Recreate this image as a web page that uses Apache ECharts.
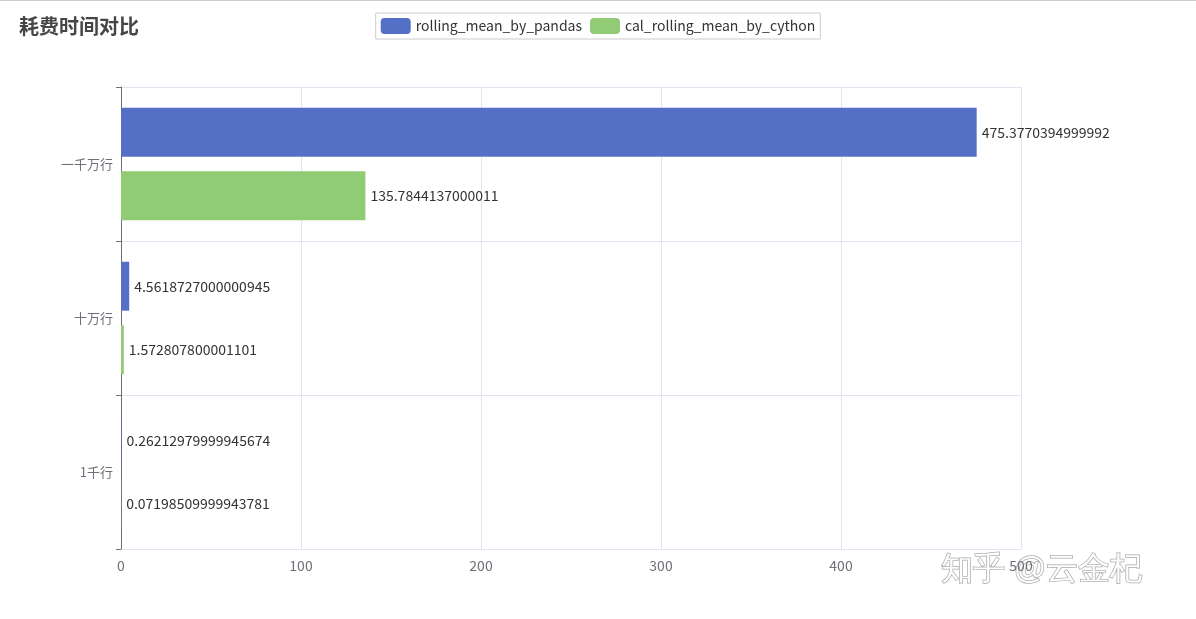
<!DOCTYPE html>
<html>
<head>
<meta charset="utf-8">
<script src="https://cdn.jsdelivr.net/npm/echarts@6/dist/echarts.min.js"></script>
<style>
  html, body { margin: 0; padding: 0; background: #fff; }
  #main { width: 1196px; height: 619px; border-top: 1px solid #ccc; box-sizing: border-box; }
</style>
</head>
<body>
<div id="main"></div>
<script>
var categories = ['1千行', '十万行', '一千万行'];
var pandasTimes = [0.26212979999945674, 4.5618727000000945, 475.3770394999992];
var cythonTimes = [0.07198509999943781, 1.572807800001101, 135.7844137000011];
var xTicks = [0, 100, 200, 300, 400, 500];

var myChart = echarts.init(document.getElementById('main'));
var option = {
    textStyle: { fontFamily: 'Noto Sans CJK SC, sans-serif' },
    title: {
        text: '耗费时间对比',
        left: 14, top: 10,
        textStyle: { fontSize: 20, fontWeight: 'bold', color: '#464646' }
    },
    legend: {
        data: ['rolling_mean_by_pandas', 'cal_rolling_mean_by_cython'],
        top: 12, left: 'center',
        borderColor: '#ccc', borderWidth: 1, padding: [5, 5],
        itemWidth: 30, itemHeight: 16,
        textStyle: { fontSize: 14, color: '#333' }
    },
    grid: { left: 121, right: 175, top: 86, bottom: 70, containLabel: false },
    xAxis: {
        type: 'value', min: xTicks[0], max: xTicks[xTicks.length - 1], interval: 100,
        axisLabel: { fontSize: 14, color: '#6e7079', margin: 10 },
        splitLine: { show: true, lineStyle: { color: '#e0e6f1' } }
    },
    yAxis: {
        type: 'category', data: categories,
        axisLine: { show: true, lineStyle: { color: '#6e7079' } },
        axisTick: { show: true },
        axisLabel: { fontSize: 13, color: '#6e7079' },
        splitLine: { show: true, lineStyle: { color: '#e0e6f1' } }
    },
    series: [
        {
            name: 'rolling_mean_by_pandas', type: 'bar', data: pandasTimes,
            itemStyle: { color: '#5470c6' }, barGap: '30%',
            label: { show: true, position: 'right', fontSize: 14, color: '#333' }
        },
        {
            name: 'cal_rolling_mean_by_cython', type: 'bar', data: cythonTimes,
            itemStyle: { color: '#91cc75' },
            label: { show: true, position: 'right', fontSize: 14, color: '#333' }
        }
    ],
    graphic: [{
        type: 'text', left: 940, top: 552,
        style: { text: '知乎 @云金杞', fontSize: 32, fill: '#ffffff', stroke: '#aaaaaa', lineWidth: 1.5 }
    }]
};
myChart.setOption(option);
</script>
</body>
</html>
